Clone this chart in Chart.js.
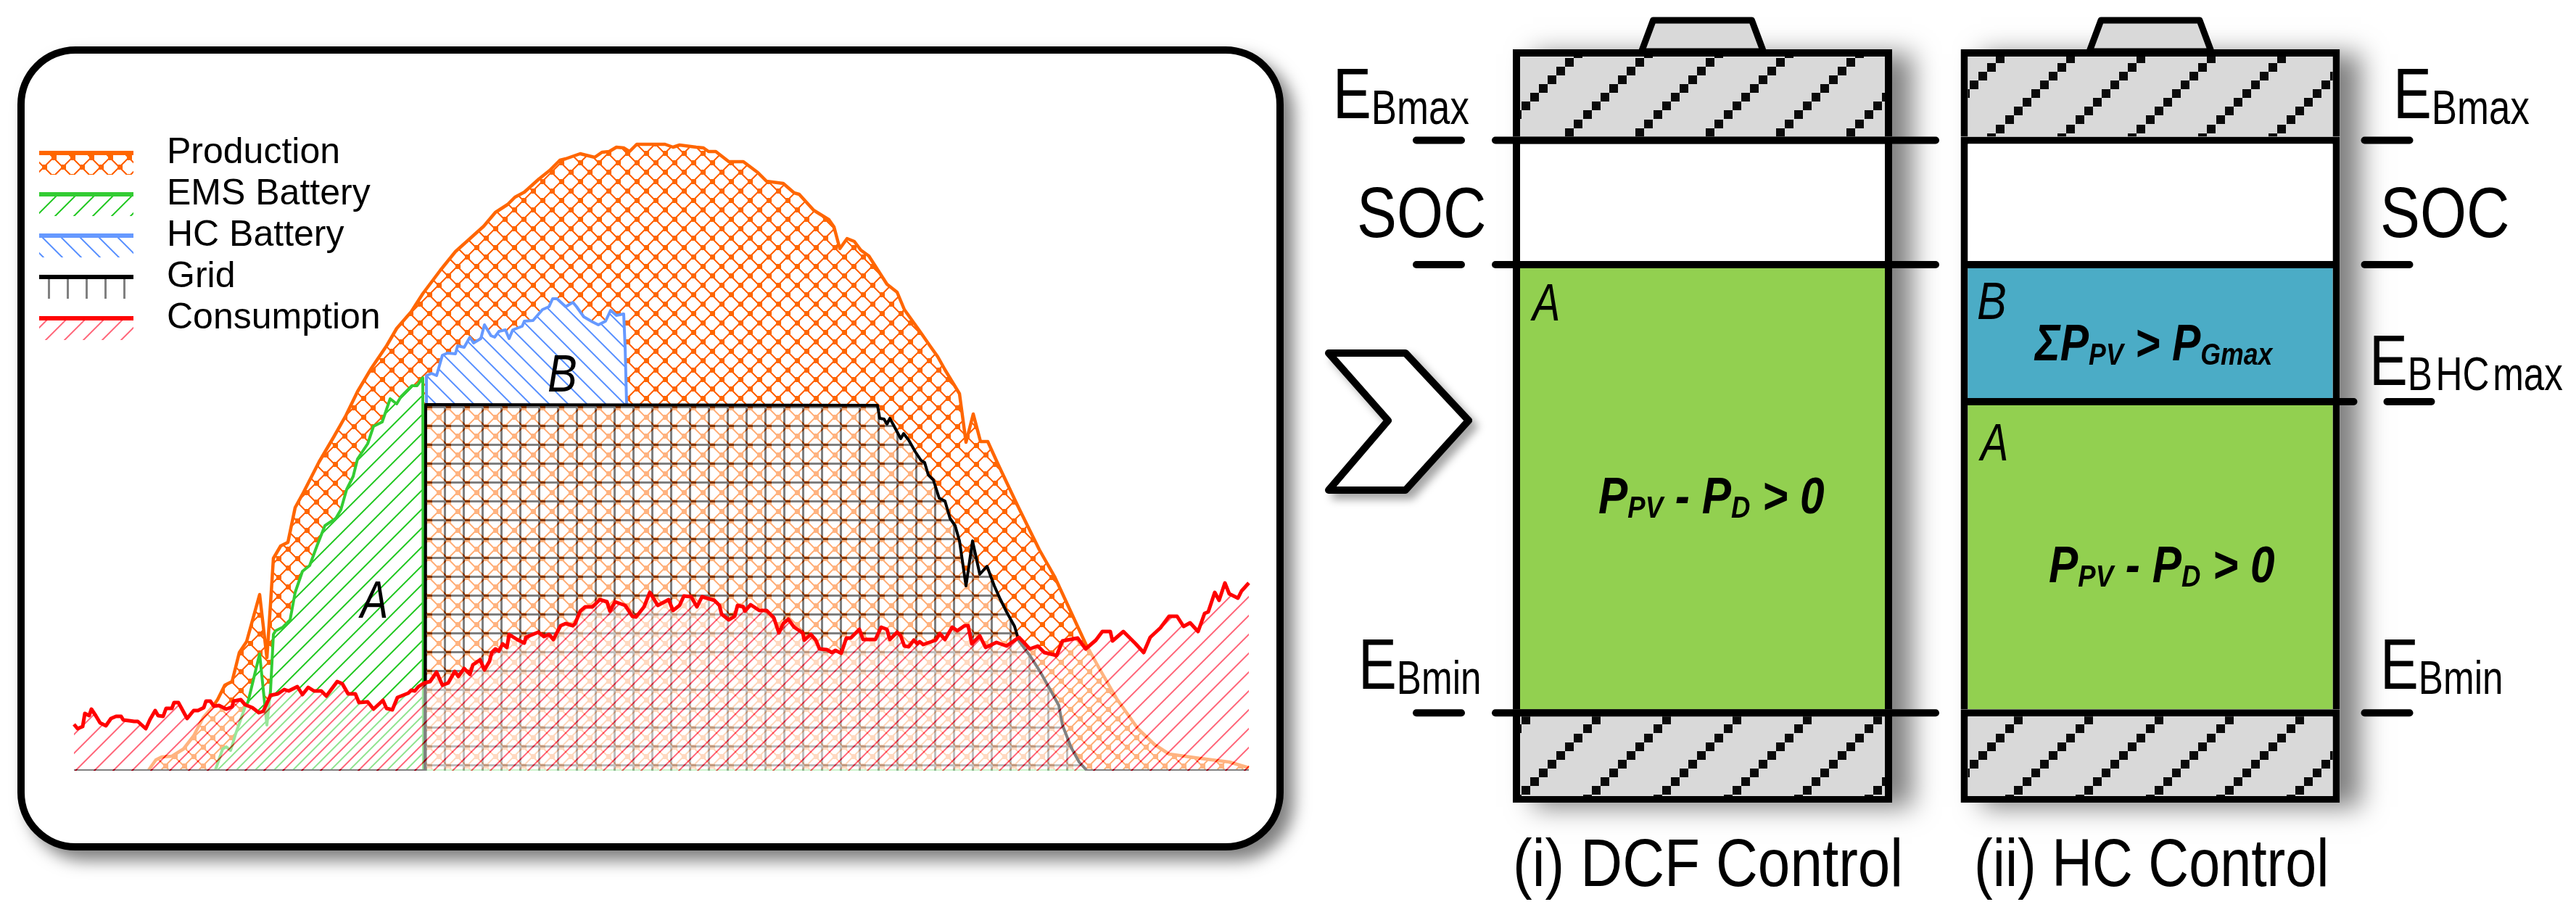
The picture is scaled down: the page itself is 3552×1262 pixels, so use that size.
<!DOCTYPE html>
<html>
<head>
<meta charset="utf-8">
<title>Battery control</title>
<script src="https://cdn.jsdelivr.net/npm/chart.js@4/dist/chart.umd.js"></script>
<style>
  html, body { margin: 0; background: #fff; }
  #page { position: relative; width: 3552px; height: 1262px; overflow: hidden; font-family: "Liberation Sans", Arial, sans-serif; color: #000; }
  #panel { position: absolute; left: 24px; top: 64px; width: 1726px; height: 1089px; border: 10px solid #000; border-radius: 80px; background: #fff; box-shadow: 14px 14px 22px rgba(0,0,0,.5); }
  canvas { position: absolute; left: 0; top: 0; }
  #chevron { position: absolute; left: 0; top: 0; filter: drop-shadow(8px 8px 6px rgba(0,0,0,.35)); }
  .txt { position: absolute; line-height: 0; white-space: pre; transform-origin: 0 0; }
</style>
</head>
<body>
<div id="page">
  <div id="panel"></div>
  <svg id="chevron" width="3552" height="1262"><polygon points="1832,487 1938,487 2025,580 1938,676 1832,676 1914,580" fill="#fff" stroke="#000" stroke-width="10" stroke-linejoin="round"/></svg>
  <canvas id="powerChart" width="1790" height="1262"></canvas>
  <canvas id="batteryChart" width="3552" height="1262"></canvas>
</div>
<script>
// Day profile as [sample, power]
const productionSeries = [[105,1],[115,15],[123,19],[137,20],[153,30],[167,48],[180,73],[193,88],[200,98],[210,118],[220,123],[230,163],[240,178],[258,243],[268,156],[273,230],[277,293],[287,310],[297,315],[307,363],[318,383],[340,426],[360,460],[377,490],[393,523],[412,555],[433,586],[447,610],[467,633],[483,658],[507,690],[528,716],[547,733],[567,751],[583,770],[600,781],[610,791],[623,798],[643,816],[658,828],[672,842],[680,844],[700,851],[720,846],[730,853],[740,854],[750,860],[760,859],[768,854],[778,864],[797,864],[817,864],[828,860],[837,863],[860,860],[870,859],[877,854],[887,854],[905,840],[925,840],[945,825],[957,813],[980,810],[995,797],[1002,795],[1022,773],[1043,760],[1050,750],[1058,720],[1068,734],[1078,730],[1087,718],[1098,710],[1123,671],[1137,660],[1147,636],[1167,608],[1183,585],[1193,571],[1203,553],[1223,520],[1232,453],[1242,492],[1252,454],[1262,454],[1277,421],[1303,366],[1333,305],[1354,268],[1397,175],[1417,139],[1440,99],[1469,58],[1492,36],[1512,23],[1555,17],[1595,12],[1622,4]];

const emsBatterySeries = [[197,1],[207,30],[212,33],[218,28],[225,51],[238,88],[242,95],[258,161],[268,63],[273,110],[277,188],[280,193],[290,198],[300,208],[307,246],[317,275],[327,283],[337,310],[348,338],[363,348],[370,360],[378,388],[387,406],[393,430],[407,451],[415,475],[427,481],[438,513],[447,506],[453,516],[463,526],[468,531],[475,531],[483,542],[484,1],[485,0],[1397,0]];

const hcBatterySeries = [[488,506],[488,545],[495,548],[502,545],[510,573],[517,576],[528,575],[531,586],[540,584],[548,598],[553,590],[563,596],[568,615],[577,600],[582,598],[588,606],[597,608],[602,596],[607,608],[620,613],[623,620],[635,621],[648,636],[657,640],[662,651],[668,651],[680,640],[690,646],[695,640],[705,626],[717,619],[725,615],[735,620],[742,635],[750,628],[760,630],[762,583],[764,506]];

const gridSeries = [[2,0],[486,0],[487,505],[1110,504],[1113,486],[1119,485],[1123,478],[1127,486],[1133,475],[1142,458],[1146,465],[1153,456],[1162,440],[1170,428],[1175,425],[1180,408],[1187,401],[1195,376],[1203,372],[1210,348],[1217,338],[1223,317],[1232,255],[1241,317],[1251,271],[1261,282],[1271,255],[1279,237],[1288,219],[1299,199],[1305,179],[1320,159],[1334,137],[1348,112],[1360,90],[1365,63],[1377,32],[1388,12],[1399,0],[1622,0]];

const consumptionSeries = [[2,64],[7,58],[14,61],[17,79],[23,76],[26,85],[32,76],[38,66],[46,62],[53,72],[60,75],[67,75],[70,70],[78,69],[85,68],[90,68],[101,58],[107,71],[114,83],[118,76],[125,75],[129,86],[137,86],[140,94],[146,94],[158,72],[167,83],[173,83],[181,87],[184,96],[190,96],[195,89],[202,90],[212,85],[220,88],[222,96],[232,98],[238,91],[248,87],[257,80],[263,82],[273,104],[283,106],[292,112],[298,110],[310,116],[317,105],[325,115],[333,110],[343,110],[350,103],[365,123],[372,120],[380,106],[390,106],[395,94],[407,95],[415,85],[428,97],[433,86],[441,84],[448,101],[463,107],[467,111],[472,110],[477,116],[485,121],[493,123],[502,136],[510,118],[518,121],[527,137],[532,130],[540,141],[548,133],[552,146],[562,153],[568,139],[575,151],[578,163],[583,168],[588,165],[593,175],[599,170],[602,188],[613,181],[623,176],[625,184],[642,191],[650,185],[657,188],[663,181],[673,200],[680,203],[690,200],[693,203],[700,220],[707,226],[717,226],[727,236],[737,233],[741,220],[748,233],[762,228],[772,213],[777,212],[788,226],[796,246],[807,228],[822,236],[828,221],[837,228],[843,241],[853,240],[861,226],[868,240],[885,235],[892,228],[895,216],[905,208],[913,213],[917,228],[925,226],[927,220],[935,229],[947,221],[957,221],[967,211],[974,190],[980,203],[987,209],[995,198],[1007,190],[1009,180],[1018,188],[1025,180],[1030,168],[1040,167],[1047,163],[1052,166],[1060,162],[1067,183],[1073,183],[1085,195],[1090,181],[1107,181],[1115,198],[1123,195],[1127,181],[1137,191],[1142,186],[1147,172],[1153,171],[1160,180],[1165,175],[1168,178],[1173,174],[1190,180],[1196,189],[1203,181],[1213,198],[1220,193],[1230,200],[1235,200],[1240,175],[1251,186],[1259,170],[1274,177],[1288,172],[1305,184],[1320,168],[1331,172],[1340,163],[1357,159],[1365,179],[1386,183],[1397,168],[1411,180],[1420,192],[1431,192],[1434,179],[1449,192],[1466,175],[1477,163],[1486,184],[1500,197],[1512,213],[1523,213],[1532,199],[1541,204],[1552,192],[1561,217],[1566,219],[1575,246],[1581,235],[1589,259],[1595,244],[1607,238],[1612,248],[1622,259]];

const hcShelfLevel = 505;
const seriesNames = ['Production', 'EMS Battery', 'HC Battery', 'Grid', 'Consumption'];

// Battery charts, in percent of the cell height
const batteryCategories = ['(i) DCF Control', '(ii) HC Control'];
const reserveLow = [12.4, 12.4];
const regionA = [59.5, 41.3];
const regionB = [null, 18.2];
const headroom = [16.5, 16.5];
const reserveHigh = [11.6, 11.6];
const batteryLevels = { min: 12.4, hcMax: 53.7, soc: 71.9, max: 88.4 };

const toPoints = (list) => list.map((p) => ({ x: p[0], y: p[1] }));
const mod = (v, p) => ((Math.round(v) % p) + p) % p;

/* Hatch patterns. Lines are laid out in blocks so they stay stepped like the source. */
function makePattern(size, background, paint) {
  const c = document.createElement('canvas');
  c.width = size;
  c.height = size;
  const g = c.getContext('2d');
  if (background) {
    g.fillStyle = background;
    g.fillRect(0, 0, size, size);
  }
  const dot = (x, y, s, color) => {
    for (let i = 0; i < s; i++) {
      for (let j = 0; j < s; j++) {
        const px = mod(x + i, size);
        const py = mod(y + j, size);
        g.clearRect(px, py, 1, 1);
        g.fillStyle = color;
        g.fillRect(px, py, 1, 1);
      }
    }
  };
  paint(dot);
  return g.createPattern(c, 'repeat');
}

const rising = (phase, color, block) => (dot) => {
  for (let t = 0; t < 26; t++) dot(t, phase - t, block, color);
};
const falling = (phase, color, block) => (dot) => {
  for (let t = 0; t < 26; t++) dot(t + phase, t, block, color);
};

const productionFill = makePattern(26, null, (dot) => {
  rising(8, '#ff6600', 2)(dot);
  falling(3, '#ff6600', 2)(dot);
  dot(4, 0, 7, '#ff6600');
  dot(17, 13, 7, '#ff6600');
});
const emsFill = makePattern(26, '#fff', rising(8, '#33cc33', 2));
const hcFill = makePattern(26, '#fff', falling(18, '#6699ff', 2));
const consumptionFill = makePattern(26, 'rgba(255,255,255,.5)', rising(21, 'rgba(255,0,32,.55)', 2));
const gridFill = makePattern(26, 'rgba(255,255,255,.5)', (dot) => {
  for (let t = 0; t < 26; t++) {
    dot(14, t, 1, 'rgba(0,0,0,.5)'); dot(15, t, 1, 'rgba(0,0,0,.5)'); dot(16, t, 1, 'rgba(0,0,0,.5)');
    dot(t, 14, 1, 'rgba(0,0,0,.5)'); dot(t, 15, 1, 'rgba(0,0,0,.5)'); dot(t, 16, 1, 'rgba(0,0,0,.5)');
  }
});
const gridSwatchFill = makePattern(26, null, (dot) => {
  for (let t = 0; t < 26; t++) {
    dot(12, t, 1, '#808080'); dot(13, t, 1, '#808080'); dot(14, t, 1, '#808080');
  }
});

// Legend swatch: a line on the label's centre with its hatch hanging below
function makeSwatch(color, fill) {
  const c = document.createElement('canvas');
  c.width = 152;
  c.height = 72;
  const g = c.getContext('2d');
  g.fillStyle = fill;
  g.fillRect(0, 38, 130, 28);
  g.fillStyle = color;
  g.fillRect(0, 33, 130, 6);
  return c;
}

const lineColors = ['#ff6600', '#33cc33', '#6699ff', '#000000', '#ff0000'];
const swatches = [
  makeSwatch(lineColors[0], productionFill),
  makeSwatch(lineColors[1], emsFill),
  makeSwatch(lineColors[2], hcFill),
  makeSwatch(lineColors[3], gridSwatchFill),
  makeSwatch(lineColors[4], consumptionFill),
];

function areaDataset(index, series, fill, background, order, width) {
  return {
    label: seriesNames[index],
    data: toPoints(series),
    borderColor: lineColors[index],
    borderWidth: width,
    borderJoinStyle: 'round',
    backgroundColor: background,
    fill: fill,
    order: order,
    pointRadius: 0,
    tension: 0,
  };
}

// chartArea legends get their top reset by Chart.js, so put it back after layout
const legendTopPlugin = {
  id: 'legendTop',
  afterLayout(chart) {
    chart.legend.top = 179;
  },
};

new Chart(document.getElementById('powerChart'), {
  type: 'line',
  data: {
    datasets: [
      areaDataset(0, productionSeries, 'origin', productionFill, 5, 4.5),
      areaDataset(1, emsBatterySeries, 'origin', emsFill, 4, 4),
      areaDataset(2, hcBatterySeries, { value: hcShelfLevel }, hcFill, 3, 4),
      areaDataset(3, gridSeries, 'origin', gridFill, 2, 4),
      areaDataset(4, consumptionSeries, 'origin', consumptionFill, 1, 5),
    ],
  },
  options: {
    responsive: false,
    animation: false,
    devicePixelRatio: 1,
    layout: { padding: { left: 48, right: 50, top: 177, bottom: 199 } },
    scales: {
      x: { type: 'linear', display: false, min: -52, max: 1640 },
      y: { display: false, min: 0, max: 886 },
    },
    plugins: {
      tooltip: { enabled: false },
      legend: {
        position: 'chartArea',
        align: 'start',
        labels: {
          color: '#000',
          font: { family: '"Liberation Sans"', size: 50 },
          padding: 7,
          usePointStyle: true,
          pointStyleWidth: 150,
          generateLabels: () => seriesNames.map((name, i) => ({
            text: name,
            pointStyle: swatches[i],
            datasetIndex: i,
            hidden: false,
            lineWidth: 0,
          })),
        },
      },
    },
  },
  plugins: [legendTopPlugin],
});

/* Battery cells */
function reserveHatch(phase) {
  return makePattern(97, '#d9d9d9', (dot) => {
    for (let i = 0; i < 8; i++) {
      const t = Math.round(i * 97 / 8);
      dot(t, phase - t - 12, 12, '#0a0a0a');
    }
  });
}

const cellEdge = (extra) => Object.assign({ left: 10, right: 10, top: 10, bottom: 0 }, extra);

function cellDataset(label, data, background, border) {
  return {
    label: label,
    data: data,
    backgroundColor: background,
    borderColor: '#000',
    borderWidth: border || cellEdge(),
    borderSkipped: false,
    inflateAmount: 0,
    barThickness: 523,
    stack: 'cell',
  };
}

const cellHalf = 261.5;

// Drop shadow and the terminal go under the cells
const cellBackPlugin = {
  id: 'cellBack',
  beforeDatasetsDraw(chart) {
    const { ctx, scales } = chart;
    const top = scales.y.getPixelForValue(100);
    const bottom = scales.y.getPixelForValue(0);
    chart.getDatasetMeta(0).data.forEach((bar) => {
      ctx.save();
      ctx.shadowColor = 'rgba(0,0,0,.5)';
      ctx.shadowBlur = 34;
      ctx.shadowOffsetX = 28;
      ctx.shadowOffsetY = 6;
      ctx.fillStyle = '#fff';
      ctx.fillRect(bar.x - cellHalf, top, cellHalf * 2, bottom - top);
      ctx.restore();

      ctx.save();
      ctx.fillStyle = '#d9d9d9';
      ctx.strokeStyle = '#000';
      ctx.lineWidth = 9;
      ctx.lineJoin = 'round';
      ctx.beginPath();
      ctx.moveTo(bar.x - 84, top + 3);
      ctx.lineTo(bar.x - 68, top - 40);
      ctx.lineTo(bar.x + 68, top - 40);
      ctx.lineTo(bar.x + 84, top + 3);
      ctx.closePath();
      ctx.fill();
      ctx.stroke();
      ctx.restore();
    });
  },
};

// Level marks beside the cells
const levelMarksPlugin = {
  id: 'levelMarks',
  afterDatasetsDraw(chart) {
    const { ctx, scales } = chart;
    const bars = chart.getDatasetMeta(0).data;
    const seg = (x1, x2, level) => {
      const y = scales.y.getPixelForValue(level) + 5;
      ctx.beginPath();
      ctx.moveTo(x1 + 5, y);
      ctx.lineTo(x2 - 5, y);
      ctx.stroke();
    };
    ctx.save();
    ctx.strokeStyle = '#000';
    ctx.lineWidth = 10;
    ctx.lineCap = 'round';
    const leftEdge = bars[0].x - cellHalf;
    const leftRight = bars[0].x + cellHalf;
    [batteryLevels.max, batteryLevels.soc, batteryLevels.min].forEach((level) => {
      seg(leftEdge - 138, leftEdge - 66, level);
      seg(leftEdge - 29, leftRight + 65, level);
    });
    const right = bars[1].x + cellHalf;
    [batteryLevels.max, batteryLevels.soc, batteryLevels.min].forEach((level) => {
      seg(right + 29, right + 101, level);
    });
    seg(right - 10, right + 24, batteryLevels.hcMax);
    seg(right + 60, right + 131, batteryLevels.hcMax);
    ctx.restore();
  },
};

new Chart(document.getElementById('batteryChart'), {
  type: 'bar',
  data: {
    labels: batteryCategories,
    datasets: [
      cellDataset('Reserve low', reserveLow, [reserveHatch(90), reserveHatch(90)], cellEdge({ bottom: 9 })),
      cellDataset('A', regionA, '#92d050'),
      cellDataset('B', regionB, '#4bacc6'),
      cellDataset('SOC headroom', headroom, '#ffffff'),
      cellDataset('Reserve high', reserveHigh, [reserveHatch(19), reserveHatch(26)]),
    ],
  },
  options: {
    responsive: false,
    animation: false,
    devicePixelRatio: 1,
    layout: { padding: { left: 2038.75, right: 278.25, top: 68, bottom: 155 } },
    scales: {
      x: { display: false, stacked: true },
      y: { display: false, stacked: true, min: 0, max: 100 },
    },
    plugins: { legend: { display: false }, tooltip: { enabled: false } },
  },
  plugins: [cellBackPlugin, levelMarksPlugin],
});

/* Text */
function addText(x, base, scaleX, runs, style) {
  const el = document.createElement('div');
  el.className = 'txt';
  const size = runs[0][1];
  el.style.left = x + 'px';
  el.style.top = (base - 0.3465 * size) + 'px';
  el.style.fontSize = size + 'px';
  el.style.transform = 'scaleX(' + scaleX + ')';
  Object.assign(el.style, style || {});
  runs.forEach((run) => {
    const span = document.createElement('span');
    span.textContent = run[0];
    span.style.fontSize = run[1] + 'px';
    if (run[2]) {
      span.style.position = 'relative';
      span.style.top = run[2] + 'px';
    }
    if (run[3]) span.style.wordSpacing = run[3] + 'px';
    el.appendChild(span);
  });
  document.getElementById('page').appendChild(el);
}

const italic = { fontStyle: 'italic' };
const strong = { fontStyle: 'italic', fontWeight: 'bold' };

addText(497, 852, 0.8, [['A', 72]], italic);
addText(755, 540, 0.85, [['B', 72]], italic);

addText(1838, 163, 0.8, [['E', 99], ['Bmax', 66, 8]]);
addText(3300, 163, 0.8, [['E', 99], ['Bmax', 66, 8]]);
addText(1871, 327, 0.84, [['SOC', 98]]);
addText(3282, 327, 0.84, [['SOC', 98]]);
addText(1873, 950, 0.8, [['E', 99], ['Bmin', 64, 7]]);
addText(3282, 950, 0.8, [['E', 99], ['Bmin', 64, 7]]);
addText(3267, 531, 0.8, [['E', 99], ['B HC max', 64, 7, -12]]);

addText(2113, 442, 0.8, [['A', 72]], italic);
addText(2731, 635, 0.8, [['A', 72]], italic);
addText(2726, 440, 0.85, [['B', 72]], italic);

addText(2806, 498, 0.83, [['\u03a3P', 71], ['PV', 43, 6], [' > P', 71], ['Gmax', 43, 6]], strong);
addText(2204, 709, 0.85, [['P', 71], ['PV', 43, 6], [' - P', 71], ['D', 43, 6], [' > 0', 71]], strong);
addText(2825, 804, 0.85, [['P', 71], ['PV', 43, 6], [' - P', 71], ['D', 43, 6], [' > 0', 71]], strong);

addText(2086, 1222, 0.87, [[batteryCategories[0], 92]]);
addText(2722, 1222, 0.84, [[batteryCategories[1], 92]]);
</script>
</body>
</html>
